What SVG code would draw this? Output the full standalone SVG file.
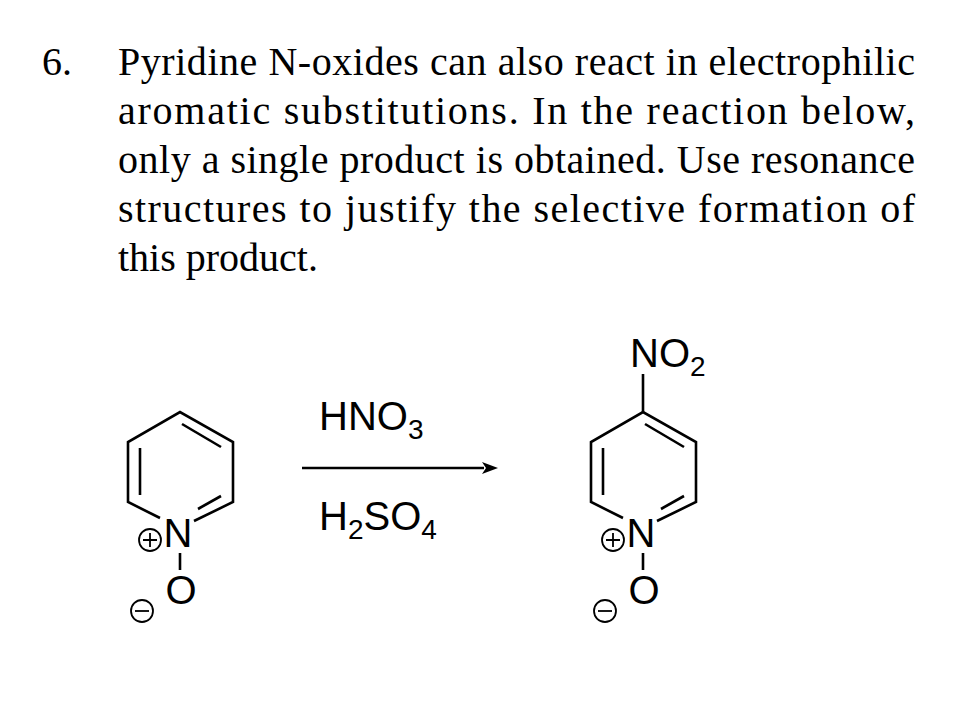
<svg xmlns="http://www.w3.org/2000/svg" width="953" height="708" viewBox="0 0 953 708">
<style>
.t{font-family:"Liberation Serif",serif;font-size:40px;fill:#000}
.s{font-family:"Liberation Sans",Arial,sans-serif;font-size:40px;fill:#000}
.u{font-size:28px}
.b{stroke:#000;stroke-width:2.6;fill:none;stroke-linecap:butt}
.c{stroke:#000;stroke-width:1.8;fill:none}
</style>
<rect width="953" height="708" fill="#fff"/>
<text class="t" x="42" y="75">6.</text>
<text class="t" x="118" y="75" textLength="797" lengthAdjust="spacing">Pyridine N-oxides can also react in electrophilic</text>
<text class="t" x="118" y="124" textLength="797" lengthAdjust="spacing">aromatic substitutions. In the reaction below,</text>
<text class="t" x="118" y="173" textLength="797" lengthAdjust="spacing">only a single product is obtained. Use resonance</text>
<text class="t" x="118" y="222" textLength="797" lengthAdjust="spacing">structures to justify the selective formation of</text>
<text class="t" x="118" y="271">this product.</text>
<g id="reactant">
<path class="b" d="M160,518 L128,502 L128,442 L180,412 L233,442 L233,502 L194,521"/>
<line class="b" x1="140" y1="448" x2="140" y2="495"/>
<line class="b" x1="182" y1="424" x2="221" y2="447"/>
<line class="b" x1="198" y1="509" x2="221" y2="496"/>
<text class="s" x="178" y="547" text-anchor="middle">N</text>
<line class="b" x1="180" y1="553" x2="180" y2="570"/>
<text class="s" x="181" y="604" text-anchor="middle">O</text>
<circle class="c" cx="150" cy="540" r="11"/>
<path class="c" d="M143,540h14M150,533v14"/>
<circle class="c" cx="142" cy="611" r="11"/>
<path class="c" d="M135,611h14"/>
</g>
<g id="arrow">
<line class="b" x1="302" y1="468" x2="484" y2="468"/>
<path d="M498,468 L482,462 L486,468 L482,474 Z" fill="#000"/>
<text class="s" x="319" y="430">HNO<tspan class="u" dy="9">3</tspan></text>
<text class="s" x="319" y="530">H<tspan class="u" dy="9">2</tspan><tspan dy="-9">SO</tspan><tspan class="u" dy="9">4</tspan></text>
</g>
<g id="product" transform="translate(463,0)">
<path class="b" d="M160,518 L128,502 L128,442 L180,412 L233,442 L233,502 L194,521"/>
<line class="b" x1="140" y1="448" x2="140" y2="495"/>
<line class="b" x1="182" y1="424" x2="221" y2="447"/>
<line class="b" x1="198" y1="509" x2="221" y2="496"/>
<line class="b" x1="180" y1="412" x2="180" y2="374"/>
<text class="s" x="167" y="367">NO<tspan class="u" dy="9">2</tspan></text>
<text class="s" x="178" y="547" text-anchor="middle">N</text>
<line class="b" x1="180" y1="553" x2="180" y2="570"/>
<text class="s" x="181" y="604" text-anchor="middle">O</text>
<circle class="c" cx="150" cy="540" r="11"/>
<path class="c" d="M143,540h14M150,533v14"/>
<circle class="c" cx="142" cy="611" r="11"/>
<path class="c" d="M135,611h14"/>
</g>
</svg>
